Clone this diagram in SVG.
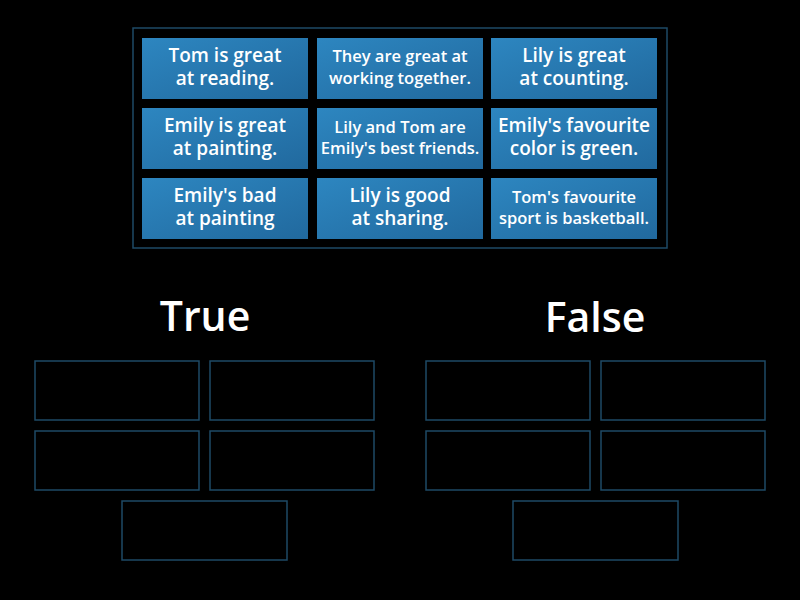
<svg xmlns="http://www.w3.org/2000/svg" width="800" height="600" viewBox="0 0 800 600">
<defs>
<linearGradient id="g" x1="0" y1="0" x2="1" y2="1"><stop offset="0" stop-color="#2d86c0"/><stop offset="1" stop-color="#21699e"/></linearGradient>
<style>
.t{fill:url(#g)}
.tx{fill:#fff;font-family:"Open Sans","Noto Sans",sans-serif;font-weight:600;text-anchor:middle;font-size:19px}
.sm{font-size:16.5px}
.b{fill:none;stroke:#1e4a66;stroke-width:1.5}
.h{fill:#fff;font-family:"Open Sans","Noto Sans",sans-serif;font-weight:600;font-size:41px;text-anchor:middle}
</style>
</defs>
<rect width="800" height="600" fill="#000"/>
<rect x="133" y="28" width="534" height="220" class="b"/>
<g id="n1"><rect class="t" x="142" y="38" width="166" height="61"/><text class="tx" x="225" y="62">Tom is great</text><text class="tx" x="225" y="85">at reading.</text></g>
<g id="n2"><rect class="t" x="317" y="38" width="166" height="61"/><text class="tx sm" x="400" y="62">They are great at</text><text class="tx sm" x="400" y="84">working together.</text></g>
<g id="n3"><rect class="t" x="491" y="38" width="166" height="61"/><text class="tx" x="574" y="62">Lily is great</text><text class="tx" x="574" y="85">at counting.</text></g>
<g id="n4"><rect class="t" x="142" y="108" width="166" height="61"/><text class="tx" x="225" y="132">Emily is great</text><text class="tx" x="225" y="155">at painting.</text></g>
<g id="n5"><rect class="t" x="317" y="108" width="166" height="61"/><text class="tx sm" x="400" y="133">Lily and Tom are</text><text class="tx sm" x="400" y="154">Emily's best friends.</text></g>
<g id="n6"><rect class="t" x="491" y="108" width="166" height="61"/><text class="tx" x="574" y="132">Emily's favourite</text><text class="tx" x="574" y="155">color is green.</text></g>
<g id="n7"><rect class="t" x="142" y="178" width="166" height="61"/><text class="tx" x="225" y="202">Emily's bad</text><text class="tx" x="225" y="225">at painting</text></g>
<g id="n8"><rect class="t" x="317" y="178" width="166" height="61"/><text class="tx" x="400" y="202">Lily is good</text><text class="tx" x="400" y="225">at sharing.</text></g>
<g id="n9"><rect class="t" x="491" y="178" width="166" height="61"/><text class="tx sm" x="574" y="203">Tom's favourite</text><text class="tx sm" x="574" y="224">sport is basketball.</text></g>
<g id="true"><text class="h" x="205" y="331">True</text>
<rect class="b" x="35" y="361" width="164" height="59"/><rect class="b" x="210" y="361" width="164" height="59"/>
<rect class="b" x="35" y="431" width="164" height="59"/><rect class="b" x="210" y="431" width="164" height="59"/>
<rect class="b" x="122" y="501" width="165" height="59"/></g>
<g id="false"><text class="h" x="595" y="332">False</text>
<rect class="b" x="426" y="361" width="164" height="59"/><rect class="b" x="601" y="361" width="164" height="59"/>
<rect class="b" x="426" y="431" width="164" height="59"/><rect class="b" x="601" y="431" width="164" height="59"/>
<rect class="b" x="513" y="501" width="165" height="59"/></g>
<g id="connectors"/>
</svg>
